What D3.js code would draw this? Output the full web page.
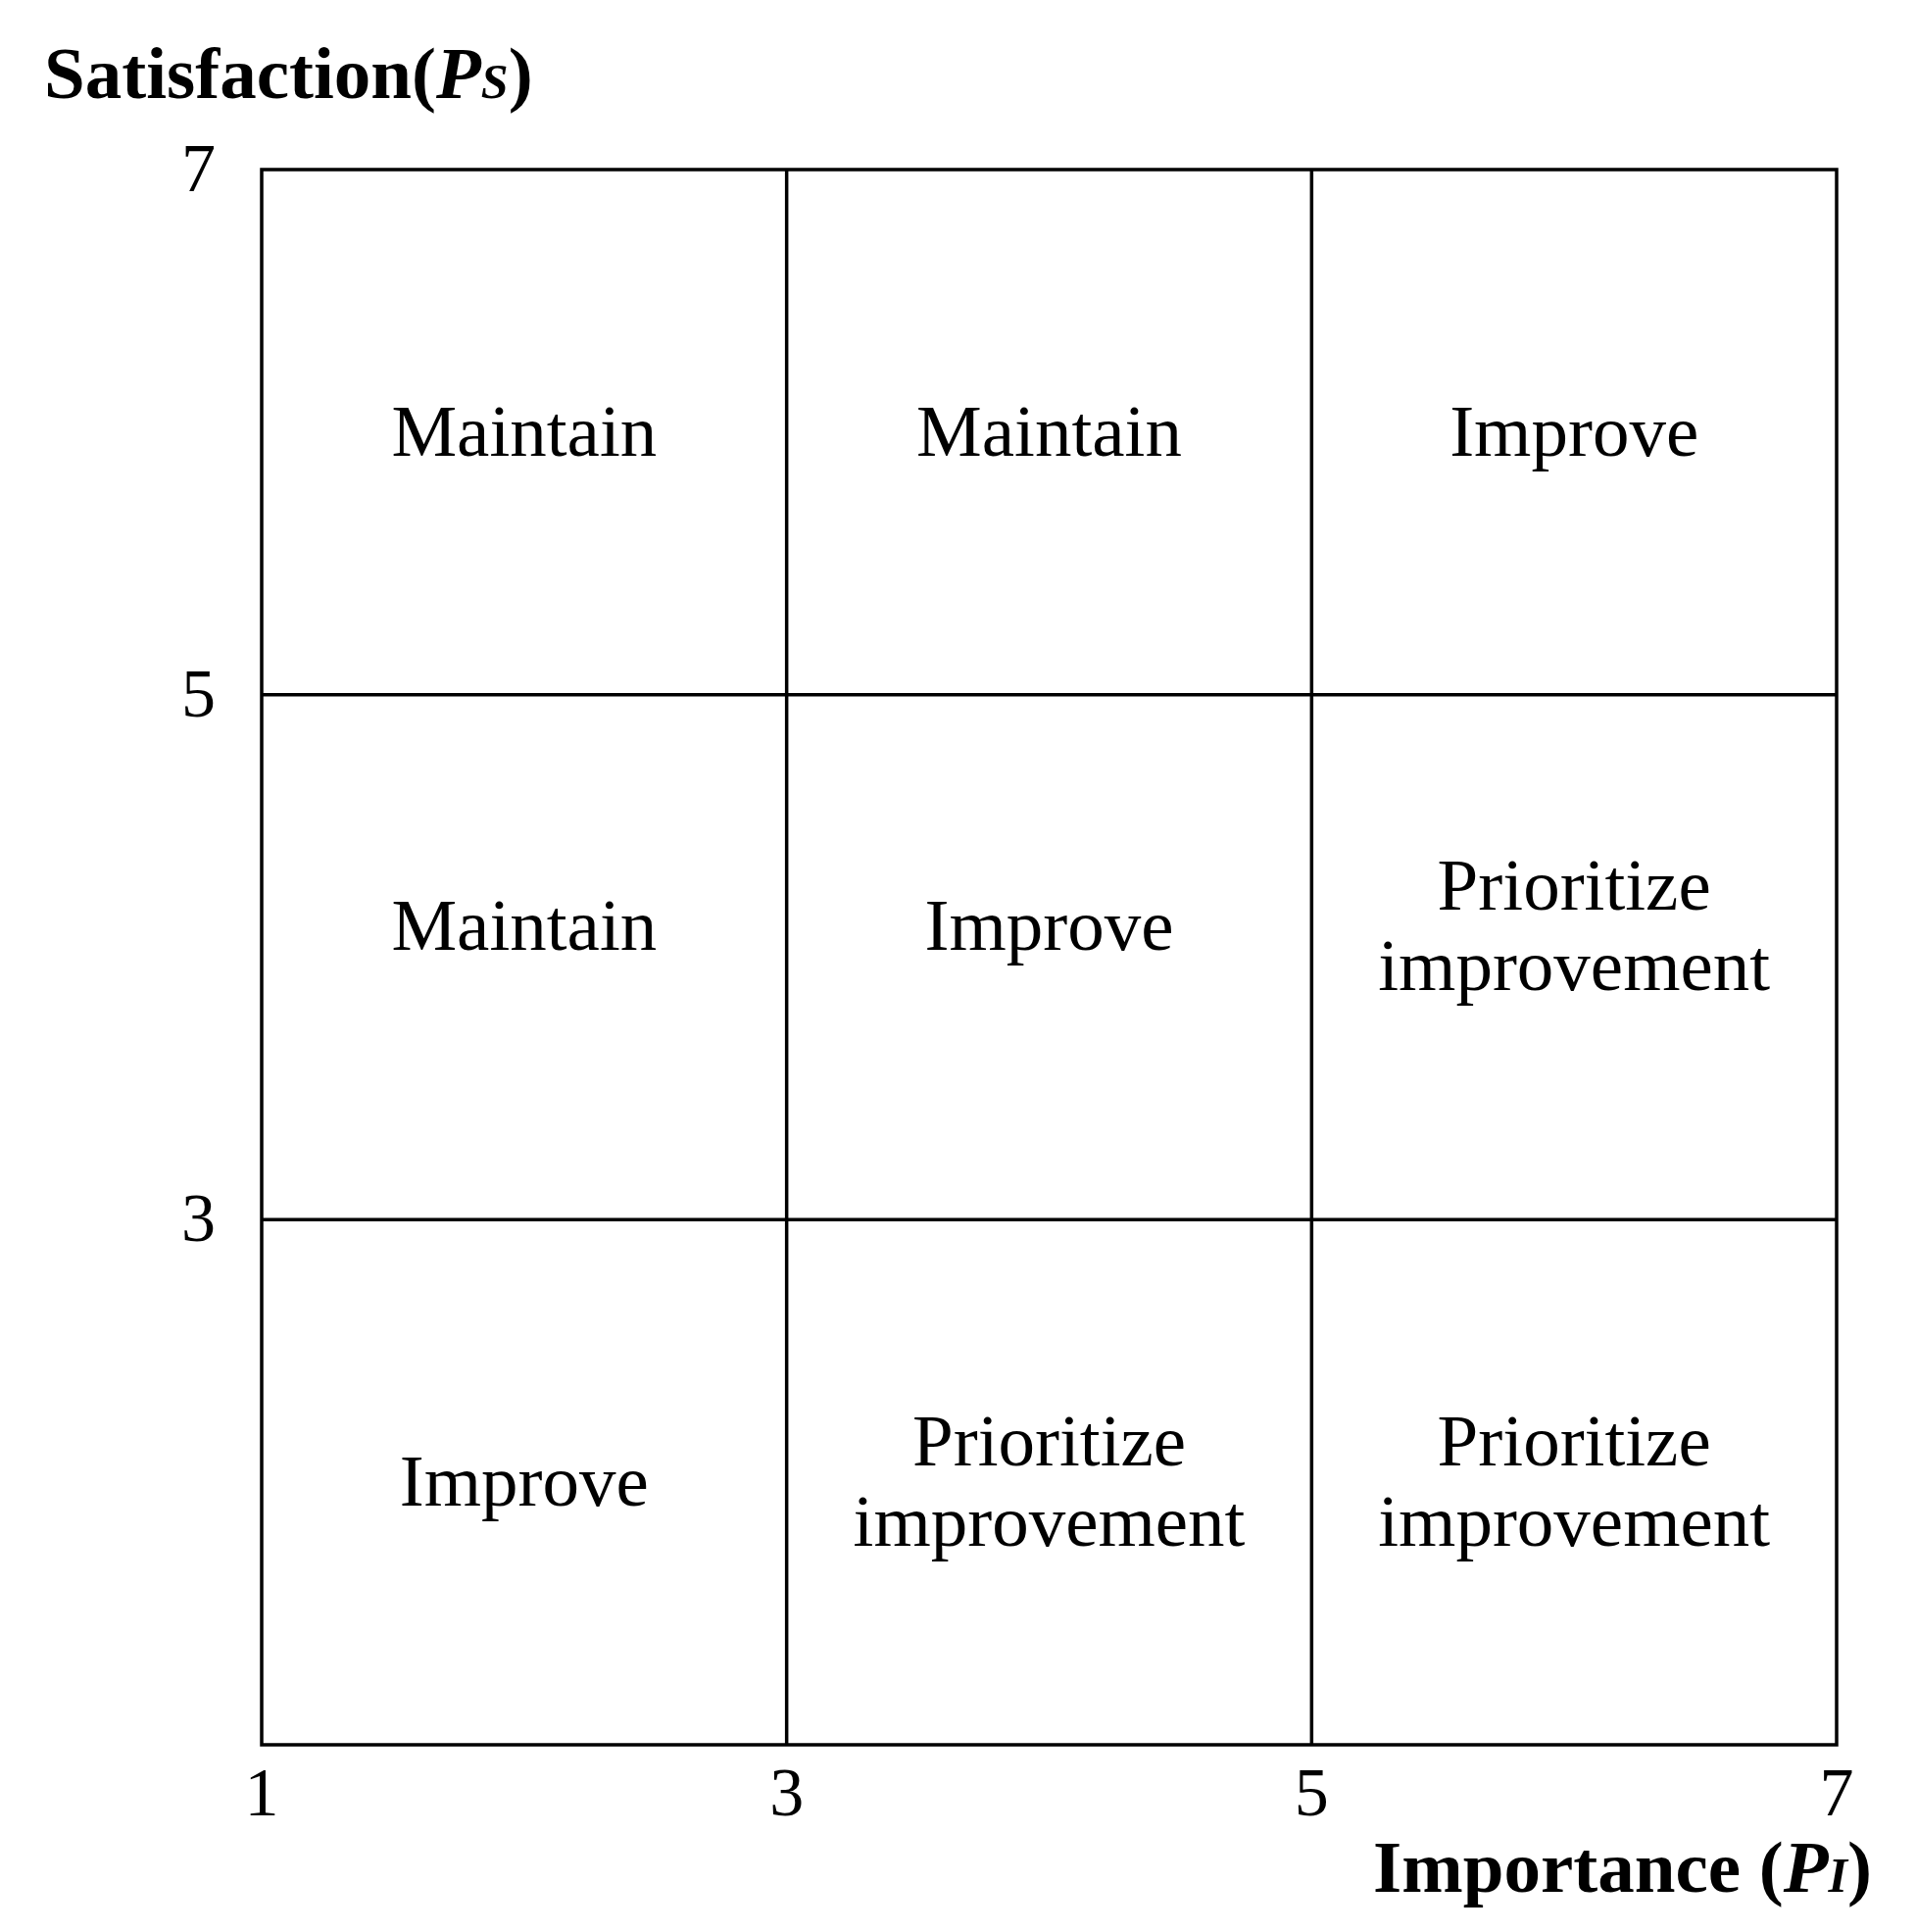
<!DOCTYPE html>
<html><head><meta charset="utf-8">
<script src="https://cdn.jsdelivr.net/npm/d3@7"></script>
<style>body{margin:0;background:#fff}</style></head>
<body><svg id="c" width="1955" height="1971"></svg>
<script>
const xTicks=[1,3,5,7];
const yTicks=[3,5,7];
const cellX=[[1,3],[3,5],[5,7],[1,3],[3,5],[5,7],[1,3],[3,5],[5,7]];
const cellY=[[5,7],[5,7],[5,7],[3,5],[3,5],[3,5],[1,3],[1,3],[1,3]];
const cellLabels=[["Maintain"],["Maintain"],["Improve"],["Maintain"],["Improve"],["Prioritize","improvement"],["Improve"],["Prioritize","improvement"],["Prioritize","improvement"]];
const svg=d3.select("#c");
const F="'Liberation Serif','Times New Roman',serif";
const x=d3.scaleLinear().domain([1,7]).range([267,1874]);
const y=d3.scaleLinear().domain([1,7]).range([1780,173]);
const g=svg.append("g");
[3,5].forEach(v=>{
 g.append("line").attr("x1",x(v)).attr("x2",x(v)).attr("y1",y(1)).attr("y2",y(7)).attr("stroke","#000").attr("stroke-width",3.5);
 g.append("line").attr("y1",y(v)).attr("y2",y(v)).attr("x1",x(1)).attr("x2",x(7)).attr("stroke","#000").attr("stroke-width",3.5);
});
g.append("rect").attr("x",x(1)).attr("y",y(7)).attr("width",x(7)-x(1)).attr("height",y(1)-y(7)).attr("fill","none").attr("stroke","#000").attr("stroke-width",3.5);
svg.selectAll(".xt").data(xTicks).join("text").attr("x",d=>x(d)).attr("y",1852).attr("text-anchor","middle").attr("font-family",F).attr("font-size",70).text(d=>d);
svg.selectAll(".yt").data(yTicks).join("text").attr("x",220).attr("y",d=>y(d)+22).attr("text-anchor","end").attr("font-family",F).attr("font-size",70).text(d=>d);
cellLabels.forEach((lines,i)=>{
 const cx=(x(cellX[i][0])+x(cellX[i][1]))/2, cy=(y(cellY[i][0])+y(cellY[i][1]))/2;
 const shift = cellY[i][0]===3 ? -32 : 0;
 const lh=82, start=cy-(lines.length-1)*lh/2+24+shift;
 lines.forEach((t,j)=>svg.append("text").attr("x",cx).attr("y",start+j*lh).attr("text-anchor","middle").attr("font-family",F).attr("font-size",75).text(t));
});
const t1=svg.append("text").attr("x",45).attr("y",100).attr("font-family",F).attr("font-size",75).attr("font-weight","bold");
t1.append("tspan").text("Satisfaction(");
t1.append("tspan").attr("font-style","italic").text("P");
t1.append("tspan").attr("font-style","italic").attr("font-size",50).text("S");
t1.append("tspan").text(")");
const t2=svg.append("text").attr("x",1910).attr("y",1930).attr("text-anchor","end").attr("font-family",F).attr("font-size",75).attr("font-weight","bold");
t2.append("tspan").text("Importance (");
t2.append("tspan").attr("font-style","italic").text("P");
t2.append("tspan").attr("font-style","italic").attr("font-size",50).text("I");
t2.append("tspan").text(")");
</script></body></html>
